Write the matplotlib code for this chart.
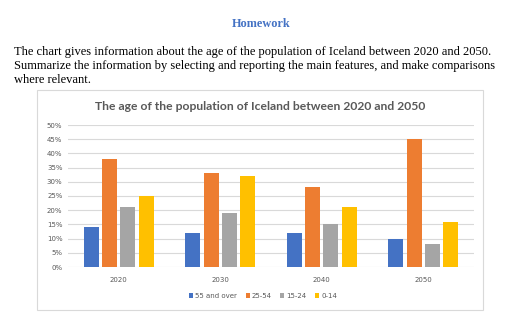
import numpy as np
import matplotlib.pyplot as plt
from matplotlib.patches import Rectangle
from matplotlib.ticker import FuncFormatter

years = ['2020', '2030', '2040', '2050']
groups = ['55 and over', '25-54', '15-24', '0-14']
over55 = [14, 12, 12, 10]
age25_54 = [38, 33, 28, 45]
age15_24 = [21, 19, 15, 8]
age0_14 = [25, 32, 21, 16]
colors = ['#4472C4', '#ED7D31', '#A5A5A5', '#FFC000']

W, H = 512, 326
fig = plt.figure(figsize=(W / 100, H / 100), dpi=100)

# page text
fig.text(261 / W, 1 - 24 / H, 'Homework', ha='center', va='center',
         family='Liberation Serif', fontweight='bold', fontsize=8.8, color='#4472C4')
para = ['The chart gives information about the age of the population of Iceland between 2020 and 2050.',
        'Summarize the information by selecting and reporting the main features, and make comparisons',
        'where relevant.']
for i, line in enumerate(para):
    fig.text(14 / W, 1 - (52 + i * 14) / H, line, ha='left', va='center',
             family='Liberation Serif', fontsize=9.0, color='black')

# chart box
fig.patches.append(Rectangle((37 / W, 16 / H), 446 / W, 220 / H, transform=fig.transFigure,
                             facecolor='white', edgecolor='#D9D9D9', linewidth=0.8, zorder=-1))

ax = fig.add_axes([68 / W, 59 / H, 406 / W, 142 / H])
x = np.arange(len(years))
pitch, width = 0.182, 0.148
for i, (vals, name) in enumerate(zip([over55, age25_54, age15_24, age0_14], groups)):
    ax.bar(x + (i - 1.5) * pitch, vals, width, color=colors[i], label=name, zorder=3)

ax.set_xlim(-0.5, 3.5)
ax.set_ylim(0, 50)
ax.set_yticks(range(0, 51, 5))
ax.yaxis.set_major_formatter(FuncFormatter(lambda v, p: f'{int(v)}%'))
ax.set_xticks(x)
ax.set_xticklabels(years)
ax.tick_params(length=0, labelsize=5, labelcolor='#595959', pad=4)
ax.tick_params(axis='x', pad=7)
ax.grid(axis='y', color='#D9D9D9', linewidth=0.8, zorder=0)
for s in ax.spines.values():
    s.set_visible(False)
ax.set_facecolor('none')

fig.text(260 / W, 1 - 107 / H, 'The age of the population of Iceland between 2020 and 2050',
         ha='center', va='center', family='Lato', fontweight='bold', fontsize=8.7, color='#595959')

ax.legend(loc='center', bbox_to_anchor=(263 / W, 1 - 296 / H), bbox_transform=fig.transFigure,
          ncol=4, frameon=False, fontsize=5, labelcolor='#595959', handlelength=0.6,
          handleheight=0.6, handletextpad=0.3, columnspacing=1.2)

fig.savefig('out.png', dpi=100)
